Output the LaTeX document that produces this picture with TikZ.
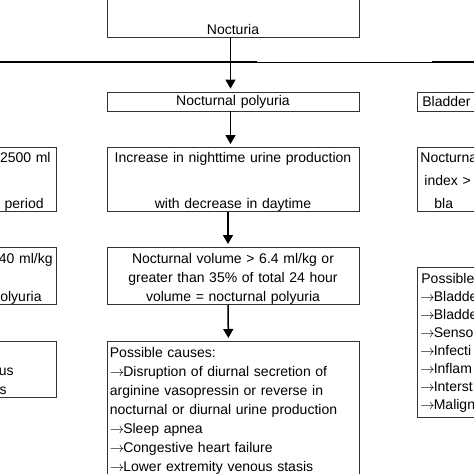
\documentclass[tikz,border=0pt]{standalone}
\usepackage{fontspec}
\setmainfont{Liberation Sans}
\usetikzlibrary{positioning, arrows.meta}

\newcommand{\causearrow}{$\rightarrow$\kern-1pt}

\begin{document}
\begin{tikzpicture}[
    x=1pt, y=-1pt,
    box/.style={rectangle, draw=black!80, line width=0.8pt, fill=white, inner sep=3pt, font=\fontsize{14}{19}\selectfont},
    mainbox/.style={box, text width=246pt, align=center},
    sidebox/.style={box, text width=150pt, align=right},
    farbox/.style={box, text width=80pt, align=left},
    twoline/.style={text height=12pt, text depth=46pt},
    threeline/.style={text height=13pt, text depth=38pt},
    arrow/.style={-{Triangle[length=9pt,width=10pt]}, line width=1.5pt, shorten >=3pt}
]
\useasboundingbox (0,0) rectangle (474,474);
\clip (0,0) rectangle (474,474);

% Main column
\node[mainbox, text height=48pt, text depth=3pt, inner ysep=0pt, anchor=base] (nocturia) at (233,34) {Nocturia};
\node[mainbox, minimum height=19pt] (polyuria) at (233,101.5) {Nocturnal polyuria};
\node[mainbox, twoline, anchor=north] (increase) at (233,147) {Increase in nighttime urine production\\[27pt]with decrease in daytime};
\node[mainbox, threeline, anchor=north] (volume) at (233,247) {Nocturnal volume > 6.4 ml/kg or\\greater than 35\% of total 24 hour\\volume = nocturnal polyuria};
\node[box, anchor=north west, text width=247pt, align=left, inner xsep=2.5pt, text height=13pt, text depth=150pt] (causes) at (107,341) {Possible causes:\\\causearrow Disruption of diurnal secretion of\\arginine vasopressin or reverse in\\nocturnal or diurnal urine production\\\causearrow Sleep apnea\\\causearrow Congestive heart failure\\\causearrow Lower extremity venous stasis};

% Left column
\node[sidebox, twoline, anchor=north east] (leftA) at (57,147) {2500 ml\kern3pt\\[27pt]period\kern10pt};
\node[sidebox, threeline, anchor=north east] (leftB) at (57,247) {40 ml/kg\kern1pt\\[19pt]polyuria\kern12pt};
\node[sidebox, text height=12pt, text depth=38pt, anchor=north east] (leftC) at (57,341) {\mbox{}\\us\kern40pt\\s\kern47pt};

% Right column
\node[farbox, anchor=west, minimum height=19pt] (bladder) at (417,101.5) {\hspace*{2pt}Bladder};
\node[farbox, twoline, anchor=north west] (rightA) at (417,147) {Nocturna\\[4pt]\hspace*{4pt}index >\\[4pt]\hspace*{14pt}bla};
\node[farbox, anchor=north west, font=\fontsize{14}{18}\selectfont, text height=13pt, text depth=131pt] (rightB) at (417,267) {\hspace*{1pt}Possible\\\causearrow Bladde\\\causearrow Bladde\\\causearrow Senso\\\causearrow Infecti\\\causearrow Inflam\\\causearrow Interst\\\causearrow Malign};

% Split line
\coordinate (lineL) at (0,62);
\coordinate (lineM) at (257,62);
\coordinate (lineN) at (432,62);
\coordinate (lineR) at (474,62);
\draw[line width=1pt] (lineL) -- (lineR);
\draw[line width=1.6pt] (lineL) -- (lineM);
\draw[line width=1.6pt] (lineN) -- (lineR);

% Arrows
\draw[arrow] ([xshift=-2.5pt]nocturia.south) -- ([xshift=-2.5pt]polyuria.north);
\draw[arrow] ([xshift=-2.5pt]polyuria.south) -- ([xshift=-2.5pt]increase.north);
\draw[arrow] ([xshift=-5pt]increase.south) -- ([xshift=-5pt]volume.north);
\draw[arrow] ([xshift=-5pt]volume.south) -- ([xshift=-5pt]causes.north);

\end{tikzpicture}
\end{document}
